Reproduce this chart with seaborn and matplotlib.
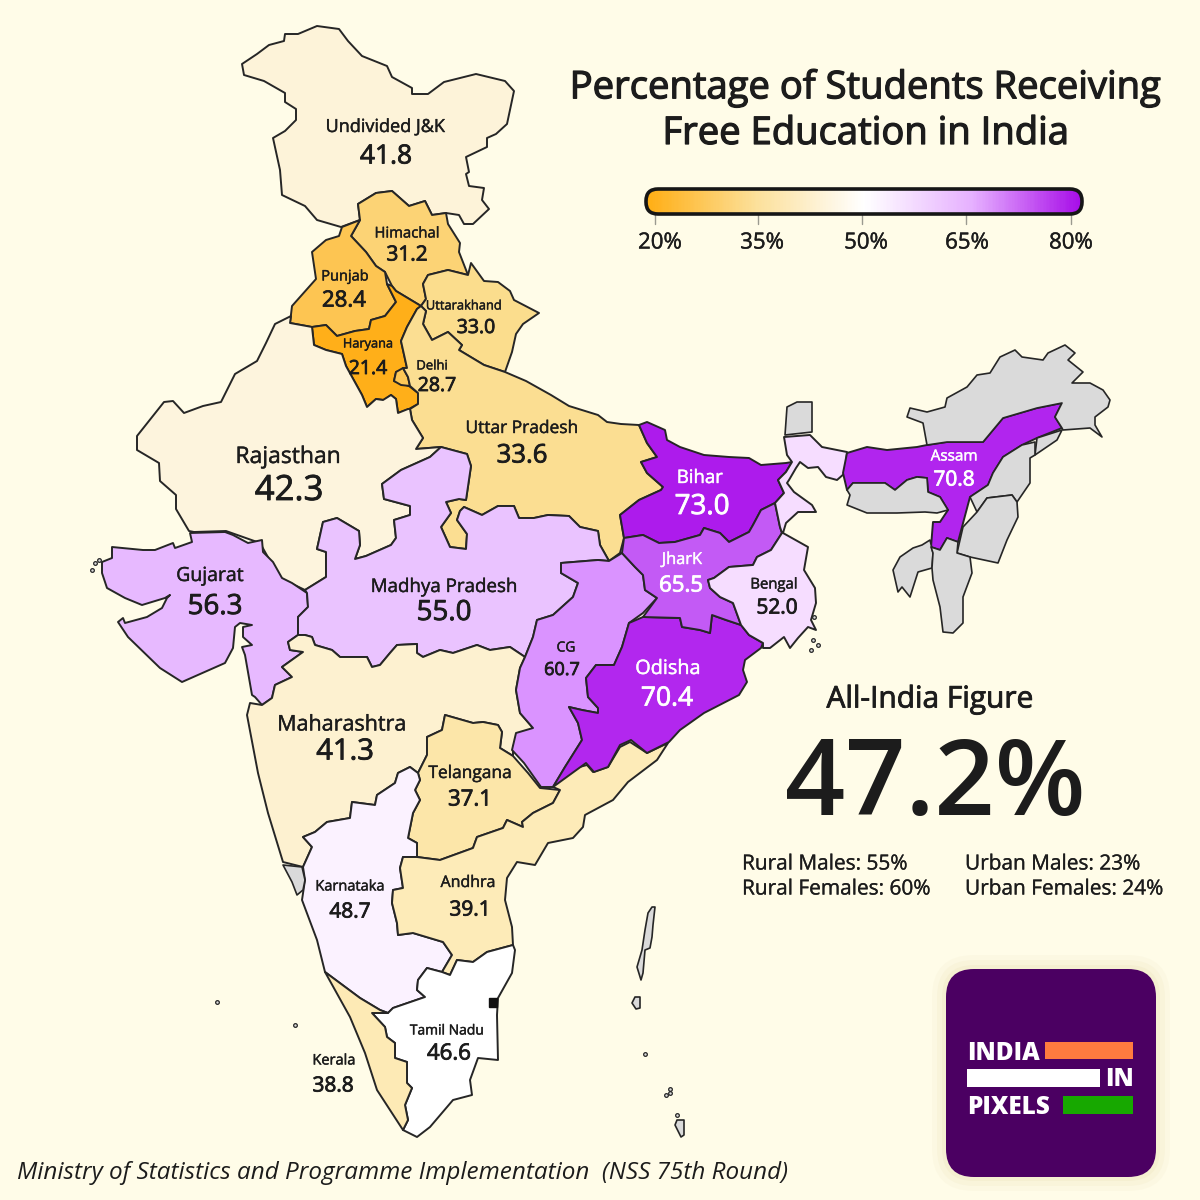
"""Free education share by state, India (NSS 75th round)"""
import numpy as np
import seaborn as sns
import matplotlib.pyplot as plt
import matplotlib.patheffects as pe
from matplotlib.colors import LinearSegmentedColormap
from matplotlib.patches import FancyBboxPatch, Polygon, Rectangle


STATE_NAMES = ['Undivided J&K', 'Himachal', 'Punjab', 'Uttarakhand', 'Haryana',
    'Delhi', 'Uttar Pradesh', 'Rajasthan', 'Gujarat', 'Madhya Pradesh',
    'Maharashtra', 'Telangana', 'Karnataka', 'Andhra', 'Tamil Nadu', 'Kerala',
    'CG', 'Odisha', 'Bihar', 'JharK', 'Bengal', 'Assam']
STATE_VALUES = [41.8, 31.2, 28.4, 33.0, 21.4, 28.7, 33.6, 42.3, 56.3, 55.0,
    41.3, 37.1, 48.7, 39.1, 46.6, 38.8, 60.7, 70.4, 73.0, 65.5, 52.0, 70.8]

SCALE_TICKS = [20, 35, 50, 65, 80]
SCALE_COLORS = ['#FFAE14', '#FCE09A', '#FFFFFF', '#E6B0FF', '#A70DE8']

# colours, they do not follow the legend exactly
MAP_STOPS = [20, 28.4, 33, 38.8, 42, 46.6, 52, 55, 60.7, 65.5, 70.8, 80]
MAP_COLORS = ['#FFAB0F', '#FDC653', '#FBDD8E', '#FDEAB5', '#FDF3DA', '#FFFFFF',
    '#F6DDFF', '#EAC3FF', '#DA93FF', '#C45CF5', '#B125EE', '#A000E8']

ALL_INDIA = '47.2%'
BREAKDOWN_LEFT = ['Rural Males: 55%', 'Rural Females: 60%']
BREAKDOWN_RIGHT = ['Urban Males: 23%', 'Urban Females: 24%']

# state outlines, in pixels of the 1200x1200 picture
OUTLINES = {
    'Undivided J&K': [(242,64),(257,54),(269,45),(284,41),(285,34),(298,34),(317,26),
        (339,29),(348,41),(362,56),(387,66),(392,77),(412,88),(412,94),(428,94),(444,82),
        (476,74),(505,81),(514,91),(507,124),(496,134),(487,138),(487,147),(466,157),
        (469,172),(466,174),(469,186),(484,188),(482,200),(489,209),(473,224),(464,224),
        (459,215),(446,213),(432,215),(425,201),(409,206),(392,191),(376,193),(358,204),
        (360,220),(341,227),(317,220),(305,206),(282,195),(280,170),(273,138),(285,131),
        (296,120),(296,109),(285,102),(285,93),(264,81),(244,75)],
    'Rajasthan': [(290,323),(312,327),(314,345),(326,350),(342,354),(346,366),(362,395),
        (367,407),(376,399),(383,400),(391,395),(396,399),(398,413),(408,409),(410,409),
        (412,420),(423,438),(416,449),(441,447),(430,457),(401,470),(382,484),(384,499),
        (410,506),(410,515),(394,520),(396,538),(391,545),(366,556),(355,559),(360,545),
        (359,531),(337,518),(323,522),(321,531),(317,549),(326,552),(326,577),(305,590),
        (282,579),(269,559),(260,543),(226,531),(194,532),(189,531),(176,509),(176,495),
        (160,481),(159,463),(137,450),(137,436),(164,402),(173,401),(184,413),(203,406),
        (221,402),(235,374),(257,361),(266,343),(275,324),(291,316)],
    'Uttar Pradesh': [(421,306),(426,311),(423,324),(432,340),(448,332),(462,345),(459,350),
        (484,365),(505,372),(526,381),(551,395),(569,406),(598,415),(607,422),(621,424),
        (639,425),(647,443),(657,457),(641,462),(647,473),(663,487),(661,490),(639,500),
        (620,515),(624,538),(620,553),(609,561),(600,545),(598,531),(580,527),(569,516),
        (548,515),(534,518),(519,518),(514,506),(498,506),(482,515),(464,507),(460,511),
        (457,520),(467,534),(466,549),(450,547),(441,527),(451,513),(446,502),(459,499),
        (466,500),(471,466),(467,454),(441,447),(416,449),(423,438),(412,420),(410,409),
        (418,404),(418,393),(410,386),(408,377),(403,368),(407,368),(401,341),(407,327),
        (417,309)],
    'Himachal': [(360,220),(358,204),(376,193),(392,191),(409,206),(425,201),(432,215),
        (446,213),(448,224),(460,243),(459,252),(468,275),(448,270),(428,275),(423,284),
        (426,299),(421,306),(396,291),(392,286),(385,272),(376,266),(366,252),(351,236)],
    'Punjab': [(360,220),(351,236),(366,252),(376,266),(385,272),(387,284),(396,302),
        (385,316),(371,320),(369,329),(355,331),(337,336),(326,325),(312,327),(290,323),
        (292,306),(316,279),(312,252),(326,240),(339,236),(342,227)],
    'Haryana': [(392,286),(396,291),(421,306),(417,309),(407,327),(401,341),(407,368),
        (396,372),(394,381),(409,386),(418,393),(418,404),(409,409),(398,413),(396,399),
        (391,395),(384,400),(376,399),(367,407),(362,395),(346,366),(342,354),(326,350),
        (314,345),(312,327),(326,325),(337,336),(355,331),(369,329),(371,320),(385,316),
        (396,302),(387,284)],
    'Delhi': [(394,381),(396,372),(403,368),(408,377),(410,386),(401,385)],
    'Uttarakhand': [(468,275),(471,263),(484,281),(498,282),(510,291),(514,300),(539,313),
        (523,324),(516,334),(512,352),(505,372),(484,365),(459,350),(462,345),(448,332),
        (432,340),(423,324),(426,311),(421,306),(426,299),(423,284),(428,275),(448,270)],
    'Gujarat': [(190,533),(225,532),(233,535),(248,543),(262,540),(263,552),(273,562),
        (282,578),(292,583),(307,593),(308,607),(298,617),(298,635),(288,642),(290,650),
        (303,652),(282,667),(292,677),(275,685),(272,698),(262,705),(255,697),(252,695),
        (245,655),(242,647),(252,645),(243,637),(243,627),(252,625),(240,623),(235,627),
        (233,648),(225,663),(182,682),(160,668),(128,637),(118,622),(123,618),(125,623),
        (147,617),(162,608),(167,598),(170,595),(165,598),(142,605),(125,598),(107,588),
        (102,573),(102,562),(112,558),(112,547),(143,550),(155,550),(173,543),(175,548),
        (192,542)],
    'Madhya Pradesh': [(441,447),(467,454),(471,466),(466,500),(459,499),(446,502),(451,513),
        (441,527),(450,547),(466,549),(467,534),(457,520),(460,511),(464,507),(482,515),
        (498,506),(514,506),(519,518),(534,518),(548,515),(569,516),(580,527),(598,531),
        (600,545),(609,561),(598,560),(561,563),(561,573),(578,583),(573,597),(553,615),
        (537,620),(533,637),(525,657),(510,647),(490,650),(477,645),(453,653),(440,650),
        (423,657),(417,653),(417,644),(397,645),(390,653),(380,665),(372,667),(367,657),
        (340,657),(332,650),(315,645),(312,637),(305,635),(298,635),(298,617),(308,607),
        (307,593),(305,590),(326,577),(326,552),(317,549),(321,531),(323,522),(337,518),
        (359,531),(360,545),(355,559),(366,556),(391,545),(396,538),(394,520),(410,515),
        (410,506),(384,499),(382,484),(401,470),(430,457)],
    'Maharashtra': [(250,703),(262,705),(272,698),(275,685),(292,677),(282,667),(303,652),
        (290,650),(288,642),(298,635),(305,635),(312,637),(315,645),(332,650),(340,657),
        (367,657),(372,667),(380,665),(390,653),(397,645),(417,644),(417,653),(423,657),
        (440,650),(453,653),(477,645),(490,650),(510,647),(525,657),(520,668),(516,690),
        (520,713),(533,728),(517,737),(513,747),(513,756),(500,748),(502,732),(498,725),
        (483,722),(473,723),(445,715),(442,730),(427,737),(427,755),(418,773),(410,767),
        (398,773),(395,783),(377,795),(375,805),(352,802),(350,818),(327,822),(315,832),
        (303,837),(312,847),(303,867),(283,862),(268,813),(258,773),(247,715)],
    'Telangana': [(418,773),(427,755),(427,737),(442,730),(445,715),(473,723),(483,722),
        (498,725),(502,732),(500,748),(513,756),(528,773),(540,788),(560,790),(553,803),
        (533,813),(522,822),(523,827),(507,820),(503,828),(477,837),(473,848),(440,860),
        (417,857),(417,843),(408,838),(413,813),(420,800),(415,790),(420,780)],
    'Andhra': [(560,790),(553,803),(533,813),(522,822),(523,827),(507,820),(503,828),(477,837),
        (473,848),(440,860),(417,857),(403,857),(400,868),(403,888),(393,890),(392,903),
        (397,923),(398,935),(413,933),(443,942),(452,955),(442,972),(450,975),(457,960),
        (473,962),(487,952),(513,945),(512,927),(505,900),(507,878),(517,862),(535,865),
        (548,843),(573,838),(583,827),(585,815),(613,800),(628,782),(657,760),(668,743),
        (647,753),(630,742),(620,747),(608,767),(593,772),(587,765),(557,773),(553,787)],
    'Karnataka': [(303,867),(312,847),(303,837),(315,832),(327,822),(350,818),(352,802),
        (375,805),(377,795),(395,783),(398,773),(410,767),(418,773),(420,780),(415,790),
        (420,800),(413,813),(408,838),(417,843),(417,857),(403,857),(400,868),(403,888),
        (393,890),(392,903),(397,923),(398,935),(413,933),(443,942),(452,955),(442,972),
        (427,968),(418,980),(417,990),(425,997),(393,1008),(388,1013),(380,1010),(360,998),
        (325,972),(317,940),(302,900),(305,880)],
    'Kerala': [(325,972),(360,998),(380,1010),(388,1013),(372,1013),(385,1027),(387,1037),
        (395,1043),(395,1058),(407,1062),(407,1083),(412,1088),(405,1105),(408,1120),
        (403,1130),(377,1090),(365,1053),(350,1017)],
    'Tamil Nadu': [(372,1013),(388,1013),(393,1008),(425,997),(417,990),(418,980),(427,968),
        (442,972),(450,975),(457,960),(473,962),(487,952),(513,945),(515,950),(512,973),
        (498,998),(497,1015),(498,1060),(478,1058),(470,1080),(472,1095),(453,1100),
        (430,1127),(417,1137),(403,1130),(408,1120),(405,1105),(412,1088),(407,1083),
        (407,1062),(395,1058),(395,1043),(387,1037),(385,1027)],
    'CG': [(561,563),(598,560),(609,561),(622,553),(635,567),(643,575),(645,590),(657,598),
        (643,613),(629,623),(622,647),(614,665),(596,665),(586,678),(588,697),(598,708),
        (598,713),(582,710),(569,707),(578,723),(582,740),(565,767),(553,787),(541,787),
        (524,763),(512,750),(516,733),(533,728),(520,713),(516,690),(520,668),(525,657),
        (533,637),(537,620),(553,615),(573,597),(578,583),(561,573)],
    'Odisha': [(629,623),(643,617),(680,618),(682,627),(700,630),(710,633),(712,615),(726,620),
        (741,625),(749,635),(763,643),(761,648),(745,660),(743,670),(747,682),(739,695),
        (704,713),(680,730),(669,742),(647,753),(631,740),(620,745),(608,767),(594,772),
        (586,763),(553,787),(565,767),(582,740),(578,723),(569,707),(582,710),(598,713),
        (598,708),(588,697),(586,678),(596,665),(614,665),(622,647)],
    'Bihar': [(639,425),(647,422),(665,430),(667,440),(680,447),(704,455),(729,457),(749,458),
        (761,465),(786,463),(792,462),(786,472),(778,480),(784,493),(775,503),(761,510),
        (753,525),(749,532),(729,542),(720,533),(704,528),(700,535),(675,542),(659,543),
        (643,535),(624,538),(620,515),(639,500),(661,490),(663,487),(647,473),(641,462),
        (657,457),(647,443)],
    'JharK': [(624,538),(643,535),(659,543),(675,542),(700,535),(704,528),(720,533),(729,542),
        (749,532),(753,525),(761,510),(775,503),(780,527),(782,533),(771,550),(757,557),
        (753,565),(729,567),(714,578),(708,580),(710,588),(720,597),(733,603),(741,625),
        (726,620),(712,615),(710,633),(700,630),(682,627),(680,618),(643,617),(657,598),
        (645,590),(643,575),(635,567),(622,553)],
    'Bengal': [(784,437),(810,435),(822,447),(847,452),(845,473),(837,480),(826,477),(818,467),
        (808,468),(800,462),(796,468),(789,480),(787,483),(794,492),(812,505),(816,512),
        (798,512),(786,523),(783,533),(808,547),(804,570),(815,588),(816,603),(811,620),
        (816,630),(808,627),(798,638),(790,648),(784,637),(770,648),(763,648),(763,643),
        (749,635),(741,625),(733,603),(720,597),(710,588),(708,580),(714,578),(729,567),
        (753,565),(757,557),(771,550),(782,533),(780,527),(775,503),(784,493),(778,480),
        (786,472),(792,462),(787,455)],
    'Assam': [(847,453),(867,447),(887,450),(917,447),(927,445),(947,442),(983,442),(1003,418),
        (1037,408),(1062,403),(1055,417),(1062,428),(1037,438),(1022,445),(1003,457),(993,473),
        (988,485),(970,497),(958,542),(947,538),(940,550),(931,547),(933,522),(940,522),
        (948,510),(940,497),(928,492),(927,478),(917,477),(907,480),(895,490),(885,483),
        (867,483),(853,483),(847,490),(843,473)],
}

# no data for these, they stay grey
NO_DATA_OUTLINES = {
    'Sikkim': [(785,435),(787,407),(797,402),(812,402),(812,432)],
    'Goa': [(283,865),(302,867),(305,880),(303,890),(297,895),(292,882)],
    'Arunachal': [(907,417),(910,408),(927,412),(945,407),(947,398),(967,387),(977,375),(990,373),
        (1000,357),(1015,350),(1022,357),(1043,360),(1048,353),(1065,345),(1075,353),(1068,360),
        (1083,372),(1072,383),(1090,383),(1103,390),(1110,400),(1108,407),(1095,417),(1095,425),
        (1102,437),(1090,428),(1063,430),(1062,428),(1055,417),(1062,403),(1037,408),(1003,418),
        (983,442),(947,442),(927,445),(923,423)],
    'Nagaland tip': [(1037,438),(1035,455),(1057,440),(1062,430)],
    'Nagaland': [(1022,445),(1035,442),(1035,455),(1030,458),(1030,483),(1017,502),(1012,495),
        (987,498),(977,512),(970,497),(988,485),(993,473),(1003,457)],
    'Manipur': [(987,498),(1012,495),(1017,502),(1018,517),(1007,540),(998,563),(970,557),
        (957,553),(963,527),(977,512)],
    'Meghalaya': [(853,483),(867,483),(885,483),(895,490),(907,480),(917,477),(927,478),(928,492),
        (940,497),(948,510),(937,513),(925,512),(897,513),(867,513),(847,505),(850,495),(847,490)],
    'Tripura': [(930,540),(933,553),(932,568),(918,572),(910,597),(902,587),(898,592),(893,570),
        (900,557),(913,548),(922,545)],
    'Mizoram': [(931,547),(940,550),(947,538),(958,542),(957,553),(970,557),(972,573),(963,597),
        (963,623),(953,633),(943,632),(940,607),(933,580),(932,568),(933,553)],
    'Andaman': [(652,907),(655,907),(653,925),(652,937),(650,948),(645,950),(643,973),(641,980),
        (637,967),(642,950),(645,930),(648,913)],
    'Little Andaman': [(635,997),(640,997),(640,1008),(636,1009),(632,1003)],
    'Great Nicobar': [(677,1120),(684,1120),(684,1135),(681,1137),(675,1125)],
}
ISLAND_X = [217, 295, 645, 666, 670, 677, 95, 92, 99, 670, 814, 813, 818, 811]
ISLAND_Y = [1002, 1025, 1054, 1095, 1089, 1115, 563, 570, 560, 1093, 617, 640, 645, 650]
PONDICHERRY = [(489,998),(497,998),(497,1007),(489,1007)]

# name x, y, size, value x, y, size
LABELS = {
    'Undivided J&K': (385,125,13, 386,155,19), 'Himachal': (407,232,10.7, 407,253,15),
    'Punjab': (345,275,10.5, 344,299,16), 'Uttarakhand': (464,304,9.3, 476,326,14),
    'Haryana': (368,342,9.2, 368,367,14), 'Delhi': (432,364,9.4, 437,384,14),
    'Uttar Pradesh': (522,427,12.5, 522,454,18.5), 'Rajasthan': (288,455,16.5, 289,489,25),
    'Gujarat': (210,574,14, 215,605,20), 'Madhya Pradesh': (444,585,13.5, 444,611,20),
    'Maharashtra': (342,723,15.5, 345,750,21), 'Telangana': (470,772,12.5, 470,798,16),
    'Karnataka': (350,885,10.5, 350,910,15), 'Andhra': (468,881,11.5, 470,908,15),
    'Tamil Nadu': (447,1029,10, 449,1052,16), 'Kerala': (334,1059,10.5, 333,1084,15),
    'CG': (566,646,10, 562,668,13), 'Odisha': (668,667,14.3, 667,697,19),
    'Bihar': (700,476,13.4, 702,505,20), 'JharK': (682,558,11.8, 681,584,16),
    'Bengal': (774,583,10.7, 777,606,15), 'Assam': (954,455,11, 954,478,15),
}
WHITE_LABELS = ['Odisha', 'Bihar', 'JharK', 'Assam']

BG = '#FFFCE8'
INK = '#1C1C1C'
EDGE = '#262626'
GREY = '#DADADA'


def heavier(color, width):
    """Thin stroke, the fonts here have no medium weight"""
    return [pe.withStroke(linewidth=width, foreground=color)]


sns.set_theme(style='white')
plt.rcParams['font.family'] = ['Open Sans', 'DejaVu Sans']

fig = plt.figure(figsize=(12, 12), dpi=100, facecolor=BG)
ax = fig.add_axes([0, 0, 1, 1])
ax.set_xlim(0, 1200)
ax.set_ylim(1200, 0)
ax.axis('off')

stops = (np.array(MAP_STOPS) - 20)/60
map_cmap = LinearSegmentedColormap.from_list('map', list(zip(stops, MAP_COLORS)))

for name, value in zip(STATE_NAMES, STATE_VALUES):
    color = map_cmap((value - 20)/60)
    ax.add_patch(Polygon(OUTLINES[name], closed=True, facecolor=color, edgecolor=EDGE,
        linewidth=1.4, joinstyle='round'))

for outline in NO_DATA_OUTLINES.values():
    ax.add_patch(Polygon(outline, closed=True, facecolor=GREY, edgecolor=EDGE,
        linewidth=1.2, joinstyle='round'))
ax.add_patch(Polygon(PONDICHERRY, closed=True, facecolor='#111111', edgecolor='#111111'))
ax.scatter(ISLAND_X, ISLAND_Y, s=7, color=GREY, edgecolor=EDGE, linewidth=0.9, zorder=2)

for name, value in zip(STATE_NAMES, STATE_VALUES):
    nx, ny, nsize, vx, vy, vsize = LABELS[name]
    color = 'white' if name in WHITE_LABELS else INK
    ax.text(nx, ny + 2, name, ha='center', va='center', fontsize=nsize, color=color,
        path_effects=heavier(color, 0.3))
    ax.text(vx, vy + 2, '{:.1f}'.format(value), ha='center', va='center', fontsize=vsize,
        color=color, path_effects=heavier(color, 0.6))

# title
ax.text(866, 88, 'Percentage of Students Receiving', ha='center', va='center',
    fontsize=27.5, color=INK, path_effects=heavier(INK, 0.9))
ax.text(866, 134, 'Free Education in India', ha='center', va='center',
    fontsize=27.5, color=INK, path_effects=heavier(INK, 0.9))

# legend bar, heatmap clipped to a rounded box
bar_ax = fig.add_axes([646/1200, 1 - 214/1200, 436/1200, 25/1200])
scale_cmap = sns.blend_palette(SCALE_COLORS, as_cmap=True)
sns.heatmap(np.linspace(0, 1, 300).reshape(1, -1), ax=bar_ax, cmap=scale_cmap, cbar=False,
    vmin=0, vmax=1, xticklabels=False, yticklabels=False)
box = FancyBboxPatch((652, 195), 424, 13, boxstyle='round,pad=6,rounding_size=12',
    facecolor='none', edgecolor='none', transform=ax.transData)
ax.add_patch(box)
bar_ax.collections[0].set_clip_path(box)
bar_ax.axis('off')
frame = FancyBboxPatch((652, 195), 424, 13, boxstyle='round,pad=6,rounding_size=12',
    facecolor='none', edgecolor='#161616', linewidth=2.6, transform=ax.transData, clip_on=False)
bar_ax.add_patch(frame)

tick_x = [655, 758, 862, 966, 1071]
label_x = [660, 762, 866, 967, 1071]
for x, lx, t in zip(tick_x, label_x, SCALE_TICKS):
    ax.plot([x, x], [215, 224], color='#9A9A90', linewidth=1)
    ax.text(lx, 243, '{}%'.format(t), ha='center', va='center', fontsize=16, color=INK,
        path_effects=heavier(INK, 0.3))

# all india block
ax.text(930, 700, 'All-India Figure', ha='center', va='center', fontsize=21.5, color=INK,
    path_effects=heavier(INK, 0.6))
ax.text(935, 788, ALL_INDIA, ha='center', va='center', fontsize=76, color=INK,
    fontweight='semibold')
for row, (left, right) in enumerate(zip(BREAKDOWN_LEFT, BREAKDOWN_RIGHT)):
    y = 864 + row*25
    ax.text(742, y, left, ha='left', va='center', fontsize=15, color=INK,
        path_effects=heavier(INK, 0.2))
    ax.text(965, y, right, ha='left', va='center', fontsize=15, color=INK,
        path_effects=heavier(INK, 0.2))

# logo
for grow, alpha in [(14, 0.10), (9, 0.14), (4, 0.2)]:
    ax.add_patch(FancyBboxPatch((972, 995), 158, 156,
        boxstyle='round,pad={},rounding_size={}'.format(26 + grow, 28 + grow),
        facecolor='#E8DDB0', edgecolor='none', alpha=alpha))
ax.add_patch(FancyBboxPatch((972, 995), 158, 156, boxstyle='round,pad=26,rounding_size=28',
    facecolor='#4B0062', edgecolor='none'))
ax.add_patch(Rectangle((1045, 1042), 88, 17, facecolor='#FF7B3F', edgecolor='none'))
ax.add_patch(Rectangle((967, 1069), 133, 18, facecolor='white', edgecolor='none'))
ax.add_patch(Rectangle((1063, 1096), 70, 18, facecolor='#17A800', edgecolor='none'))
ax.text(967, 1053, 'INDIA', ha='left', va='center', fontsize=17.5, color='white', fontweight='heavy')
ax.text(1134, 1080, 'IN', ha='right', va='center', fontsize=17.5, color='white', fontweight='heavy')
ax.text(967, 1107, 'PIXELS', ha='left', va='center', fontsize=17.5, color='white', fontweight='heavy')

# source
ax.text(17, 1173, 'Ministry of Statistics and Programme Implementation  (NSS 75th Round)',
    ha='left', va='center', fontsize=17.5, color=INK, style='italic')

fig.savefig('out.png', dpi=100, facecolor=BG)
